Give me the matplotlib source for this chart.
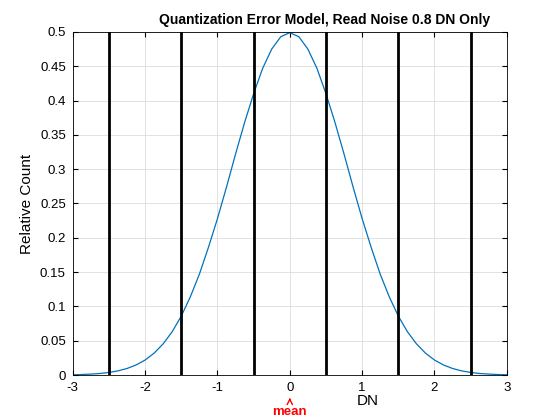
import matplotlib
matplotlib.use("Agg")
import matplotlib.pyplot as plt

half_x = [0.0,0.125,0.25,0.375,0.5,0.625,0.75,0.875,1.0,1.125,1.25,1.375,1.5,1.625,1.75,1.875,
          2.0,2.125,2.25,2.375,2.5,2.625,2.75,2.875,3.0]
half_y = [0.499,0.493,0.475,0.447,0.410,0.368,0.322,0.274,0.228,0.186,0.147,0.114,0.086,0.0633,
          0.0456,0.0320,0.0219,0.0147,0.0096,0.0061,0.0038,0.0023,0.0014,0.0008,0.0004]
x_vals = [-v for v in half_x[::-1]] + half_x[1:]
y_vals = half_y[::-1] + half_y[1:]
bounds = [-2.5,-1.5,-0.5,0.5,1.5,2.5]

plt.rcParams['font.family'] = ['Liberation Sans', 'DejaVu Sans']
plt.rcParams['axes.unicode_minus'] = False
fig = plt.figure(figsize=(5.6,4.2), dpi=100)
ax = fig.add_axes([0.13,0.107,0.775,0.817])
ax.plot(x_vals, y_vals, color='#0072BD', lw=0.9)
for b in bounds:
    ax.axvline(b, color='black', lw=2)
ax.set_xlim(-3,3); ax.set_ylim(0,0.5)
ax.set_xticks(range(-3,4))
ax.set_yticks([i*0.05 for i in range(11)])
ax.set_yticklabels(['0','0.05','0.1','0.15','0.2','0.25','0.3','0.35','0.4','0.45','0.5'])
ax.grid(True, color='#dddddd', lw=0.6)
ax.tick_params(direction='in', top=True, right=True, labelsize=9.5, pad=5)
for s in ax.spines.values(): s.set_linewidth(0.6)
ax.set_xlabel('DN', fontsize=11, labelpad=1)
ax.xaxis.set_label_coords(0.68, -0.055)
ax.set_ylabel('Relative Count', fontsize=11)
ax.set_title('Quantization Error Model, Read Noise 0.8 DN Only', fontsize=10, fontweight='bold', x=0.58)
ax.annotate('mean', xy=(0, -0.029), xytext=(0, -0.054), textcoords='data', ha='center', va='center',
            color='red', fontweight='bold', fontsize=9.5, annotation_clip=False,
            arrowprops=dict(arrowstyle='->', color='red', lw=1))
fig.savefig('out.png', dpi=100)
